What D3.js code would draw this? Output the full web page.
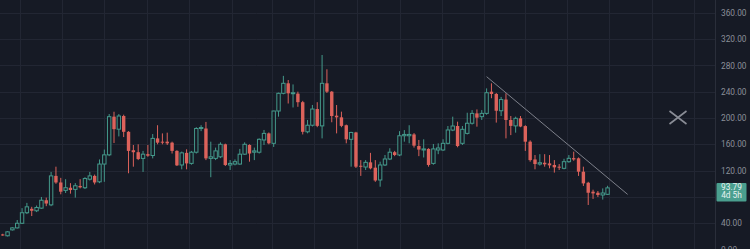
<!DOCTYPE html>
<html>
<head>
<meta charset="utf-8">
<script src="https://cdn.jsdelivr.net/npm/d3@7"></script>
<style>
  html, body { margin: 0; padding: 0; background: #161a25; overflow: hidden; }
  svg { display: block; }
</style>
</head>
<body>
<div id="chart"></div>
<script>
// weekly candles: [open, high, low, close]
const ohlc = [
  [23,24,21,22],[21,28,20,27],[30,34,29,33],[33,45,32,40],[40,63,39,56],
  [56,71,54,65],[62,65,51,59],[59,67,57,64],[63,80,62,75],[75,79,66,70],
  [68,118,66,112],[112,126,100,102],[102,109,84,88],[90,107,86,94],[94,101,85,90.5],
  [91.5,101,79,97],[96.7,107,93,94.6],[94,110,92,108],[107,118,105,112],[112,114,99,102],
  [103,137,101,130],[130,152,103,144],[144,206,142,202],[202,209.5,162,183],[183,206,172,203],
  [203,205,171,179],[179,180,116,150],[151,159,126,148],[148,160,136,137.6],[138.6,150,118,145],
  [145,159,141,142.7],[143,175.6,138.6,169],[169,189,160,162.5],[164,176.6,160,162.5],[164,177.7,159,161.5],
  [162.5,164,146,150],[150,151,127,128],[128.6,149,122,147],[147,152.4,122,131],[131,150,129,148],
  [148,186,146,184],[184,189,180,185.5],[184,194,136,138.6],[138.6,164,110,141],[138.6,155,136,150],
  [141,163,139,160],[160,161,127,128.6],[128.6,136,121,131],[130,137,128,133.6],[130,153,129,145],
  [145,163,144,160],[159,160,133.6,146],[148,155,136,150],[148,169,146,167.6],[166.6,181.8,159,176.6],
  [176.6,178,160,161.5],[161.5,211,156,210.6],[210.6,238.5,202,237.5],[237.5,264,236,252.7],[252.7,257.7,222,237.5],
  [237,251,216,238.4],[237,240,217,224],[224,226,175,179],[179,197,176.7,189],[189,219.8,187,213.6],
  [213.6,224,186,188],[188,295.7,169,252.7],[252.7,274,238,240],[240,241,193.5,203],[203.5,219.7,176.6,201],
  [201,209.6,186,188],[189,190,161.5,167.6],[167.6,179,126,178],[178,179,124,126],[127.4,136,112,126],
  [125.5,136,121,132.6],[132.6,147,122,123.5],[124.5,136,103,105],[105.8,133.6,95.6,128.6],[128.6,143.8,127,137.7],
  [137.7,154,136,148],[148,150,142,143.8],[143.8,180,142,173],[173,181.6,164,175],[173,189,161.5,175],
  [175,177,155,158],[157.4,166.6,142,152],[151.4,167.6,140,153],[153,154,126,128.6],[131,160.5,129,153],
  [151.4,161.5,145,154.4],[151.4,167.6,150,161.5],[161.5,187.8,160,181.8],[181.6,202,180,187.8],[187.8,194.4,155.5,157.4],
  [161.5,187.8,159,182.8],[176.6,208,175,192],[192,212,190,207],[207,213,186.8,200.5],[202,212,197,207],
  [207,245,205,238.4],[240,252.7,230,236.5],[236.5,238,193,211],[211,232,203,228],[228,237.5,169,197],
  [197,203,174,188],[188,202,177.7,199.5],[199.5,203,186,187],[187.7,189,150,164],[164,166,133.6,136],
  [137,143.7,122,130],[130,145,127.6,132],[132,145,126,129.6],[131,143.7,123.5,128],[128.6,136,117,125],
  [126,130,121,124.5],[123.5,138,122,133.6],[133.6,143.7,132,138.7],[139,148.8,135,137],[138.7,140,112,118.4],
  [118.4,126,96.7,100.6],[101.6,103,67.8,86.4],[88,91,77,85.4],[86.4,89,80,83],[83,93,76,86],
  [84,97,83,93.79]
];

const yTicks = [0, 40, 80, 120, 160, 200, 240, 280, 320, 360];

// drawn trend line (date, price)
const trend = [
  { date: "2023-01-05", price: 262.8 },
  { date: "2023-07-28", price: 83.9 }
];

const lastPrice = 93.79;
const countdown = "4d 5h";

const width = 750, height = 249, plotRight = 715;
const up = "#44998b", down = "#dc625b", bg = "#161a25", grid = "#222633";

const week = 7 * 864e5;
const first = Date.UTC(2021, 1, 4);
const data = ohlc.map((d, i) => ({
  date: new Date(first + i * week),
  open: d[0], high: d[1], low: d[2], close: d[3]
}));

const svg = d3.select("#chart")
  .append("svg")
  .attr("width", width)
  .attr("height", height)
  .style("background", bg);

var x = d3.scaleUtc()
  .domain([new Date(first - 0.56 * week), new Date(first + 147.2 * week)])
  .range([0, plotRight]);

var y = d3.scaleLinear()
  .domain([0, 360])
  .range([249.6, 12.7]);

const ly = y(lastPrice);

// grid
svg.append("g")
  .selectAll("line")
  .data(x.ticks(d3.utcMonth.every(2)))
  .enter().append("line")
  .attr("x1", d => Math.round(x(d)) + 0.5)
  .attr("x2", d => Math.round(x(d)) + 0.5)
  .attr("y1", 0).attr("y2", height)
  .attr("stroke", grid);

svg.append("g")
  .selectAll("line")
  .data(yTicks)
  .enter().append("line")
  .attr("x1", 0).attr("x2", plotRight)
  .attr("y1", d => Math.round(y(d)) + 0.5)
  .attr("y2", d => Math.round(y(d)) + 0.5)
  .attr("stroke", grid);

// right price axis (labels hidden under the last price tag are skipped)
svg.append("line")
  .attr("x1", plotRight + 0.5).attr("x2", plotRight + 0.5)
  .attr("y1", 0).attr("y2", height)
  .attr("stroke", "#2a2e3a");

svg.append("g")
  .attr("transform", "translate(" + plotRight + ",0)")
  .call(d3.axisRight(y)
    .tickValues(yTicks.filter(v => Math.abs(y(v) - ly - 4) > 14))
    .tickFormat(d3.format(".2f")).tickSize(0).tickPadding(6))
  .call(g => g.select(".domain").remove())
  .selectAll("text")
  .attr("fill", "#8b8f99")
  .style("font-family", "Roboto, sans-serif")
  .style("font-size", "8.3px");

// candles
const bw = 3.4;
const candles = svg.append("g");

candles.selectAll("line")
  .data(data)
  .enter().append("line")
  .attr("x1", d => x(d.date))
  .attr("x2", d => x(d.date))
  .attr("y1", d => y(d.high))
  .attr("y2", d => y(d.low))
  .attr("stroke", d => d.close >= d.open ? up : down)
  .attr("stroke-width", 1);

candles.selectAll("rect")
  .data(data)
  .enter().append("rect")
  .attr("x", d => x(d.date) - bw / 2)
  .attr("width", bw)
  .attr("y", d => y(Math.max(d.open, d.close)))
  .attr("height", d => Math.max(1, Math.abs(y(d.open) - y(d.close))))
  .attr("fill", d => d.close >= d.open ? bg : down)
  .attr("stroke", d => d.close >= d.open ? up : "none")
  .attr("stroke-width", 1);

// trend line
svg.append("path")
  .datum(trend)
  .attr("d", d3.line().x(d => x(new Date(d.date))).y(d => y(d.price)))
  .attr("stroke", "#7c7f89")
  .attr("stroke-width", 1)
  .attr("fill", "none");

// close icon
const cx = 678, cy = 117.5;
svg.append("path")
  .attr("d", `M${cx - 8.5},${cy - 6.5}L${cx + 8.5},${cy + 6.5}M${cx - 8.5},${cy + 6.5}L${cx + 8.5},${cy - 6.5}`)
  .attr("stroke", "#8a8d96")
  .attr("stroke-width", 1.6)
  .attr("fill", "none");

// last price label
svg.append("rect")
  .attr("x", plotRight + 1.5).attr("y", ly - 5)
  .attr("width", 30).attr("height", 18.5)
  .attr("rx", 1)
  .attr("fill", "#4a9f8f");

svg.append("g")
  .selectAll("text")
  .data([d3.format(".2f")(lastPrice), countdown])
  .enter().append("text")
  .attr("x", plotRight + 16.5)
  .attr("y", (d, i) => ly - 0.5 + i * 8.6)
  .attr("text-anchor", "middle")
  .attr("dominant-baseline", "middle")
  .attr("fill", "#e6f2ef")
  .style("font-family", "Roboto, sans-serif")
  .style("font-size", "8.3px")
  .text(d => d);
</script>
</body>
</html>
